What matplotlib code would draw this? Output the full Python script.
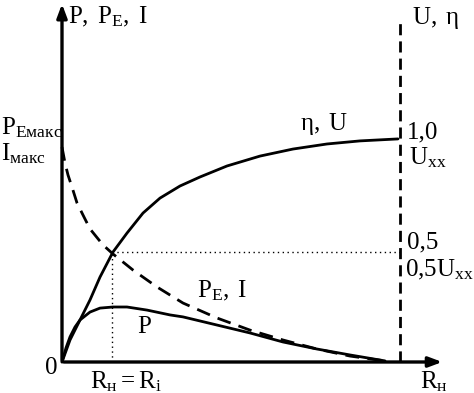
import matplotlib
matplotlib.use('Agg')
import matplotlib.pyplot as plt
import numpy as np

# R / Ri  ->  значения (в долях: 1,0 = U_xx, P_Eмакс, I_макс)
eta_r = [0, 0.16, 0.36, 0.56, 0.76, 1.02, 1.3, 1.62, 1.96, 2.36, 2.76, 3.3, 3.96, 4.62, 5.3, 5.96, 6.72]
eta_v = [0, 0.1, 0.191, 0.282, 0.386, 0.5, 0.586, 0.677, 0.745, 0.8, 0.841, 0.891, 0.936, 0.968, 0.991, 1.005, 1.014]

pe_r = [0, 0.06, 0.12, 0.2, 0.3, 0.44, 0.56, 0.82, 1.02, 1.42, 1.9, 2.42, 3.1, 3.76, 4.42, 5.1, 5.76, 6.46]
pe_v = [0.977, 0.905, 0.85, 0.795, 0.723, 0.659, 0.605, 0.532, 0.491, 0.418, 0.341, 0.268, 0.2, 0.145, 0.1, 0.059, 0.027, 0.005]

p_r = [0, 0.08, 0.16, 0.26, 0.36, 0.56, 0.76, 1.02, 1.3, 1.7, 2.16, 2.42, 3.1, 3.76, 4.42, 5.1, 5.76, 6.46]
p_v = [0, 0.064, 0.114, 0.159, 0.191, 0.227, 0.245, 0.25, 0.25, 0.236, 0.214, 0.205, 0.168, 0.132, 0.091, 0.059, 0.032, 0.005]

r_match = 1.0      # Rн = Ri
r_open = 6.76      # холостой ход (пунктирная вертикаль)

plt.rcParams['font.family'] = ['Liberation Serif', 'DejaVu Serif']
plt.rcParams['mathtext.fontset'] = 'custom'
plt.rcParams['mathtext.rm'] = 'Liberation Serif'
plt.rcParams['mathtext.it'] = 'Liberation Serif'

fig = plt.figure(figsize=(4.74, 3.93), dpi=100)
ax = fig.add_axes([0, 0, 1, 1])
ax.set_xlim(-62 / 50, 412 / 50)
ax.set_ylim(-31 / 220, 362 / 220)
ax.axis('off')

# оси
ax.annotate('', xy=(0, 1.64), xytext=(0, -0.005),
            arrowprops=dict(arrowstyle='-|>,head_length=0.8,head_width=0.3', lw=2.4, color='black'))
ax.annotate('', xy=(7.66, 0), xytext=(-0.02, 0),
            arrowprops=dict(arrowstyle='-|>,head_length=0.8,head_width=0.3', lw=2.4, color='black'))

# пунктир холостого хода
ax.plot([r_open, r_open], [0, 1.545], color='black', lw=2, linestyle=(0, (4, 2.2)))

# точечные линии
ax.plot([r_match, r_open], [0.5, 0.5], color='black', lw=1, linestyle=(0, (1, 2.5)))
ax.plot([r_match, r_match], [0, 0.5], color='black', lw=1, linestyle=(0, (1, 2.5)))

# кривые
ax.plot(eta_r, eta_v, color='black', lw=2, solid_capstyle='round', solid_joinstyle='round')
ax.plot(pe_r, pe_v, color='black', lw=2, linestyle=(0, (5, 3)))
ax.plot(p_r, p_v, color='black', lw=2, solid_capstyle='round', solid_joinstyle='round')

fs = 18
ax.text(0.12, 1.541, r'$\mathregular{P,\;P_{E},\;I}$', fontsize=fs, va='baseline')
ax.text(7.0, 1.536, r'$\mathregular{U,\;\eta}$', fontsize=fs, va='baseline')
ax.text(-1.22, 1.036, r'$\mathregular{P_{Eмакс}}$', fontsize=fs, va='baseline')
ax.text(-1.22, 0.918, r'$\mathregular{I_{макс}}$', fontsize=fs, va='baseline')
ax.text(6.9, 1.018, '1,0', fontsize=fs, va='baseline')
ax.text(6.94, 0.9, r'$\mathregular{U_{xx}}$', fontsize=fs, va='baseline')
ax.text(6.9, 0.514, '0,5', fontsize=fs, va='baseline')
ax.text(6.86, 0.391, r'$\mathregular{0{,}5U_{xx}}$', fontsize=fs, va='baseline')
ax.text(-0.08, -0.055, '0', fontsize=fs, va='baseline', ha='right')
ax.text(0.56, -0.118, r'$\mathregular{R_{н}=R_{i}}$', fontsize=fs, va='baseline')
ax.text(7.16, -0.118, r'$\mathregular{R_{н}}$', fontsize=fs, va='baseline')
ax.text(4.76, 1.055, r'$\mathregular{\eta,\;U}$', fontsize=fs, va='baseline')
ax.text(2.7, 0.295, r'$\mathregular{P_{E},\;I}$', fontsize=fs, va='baseline')
ax.text(1.5, 0.132, 'P', fontsize=fs, va='baseline')

fig.savefig('out.png', dpi=100)
